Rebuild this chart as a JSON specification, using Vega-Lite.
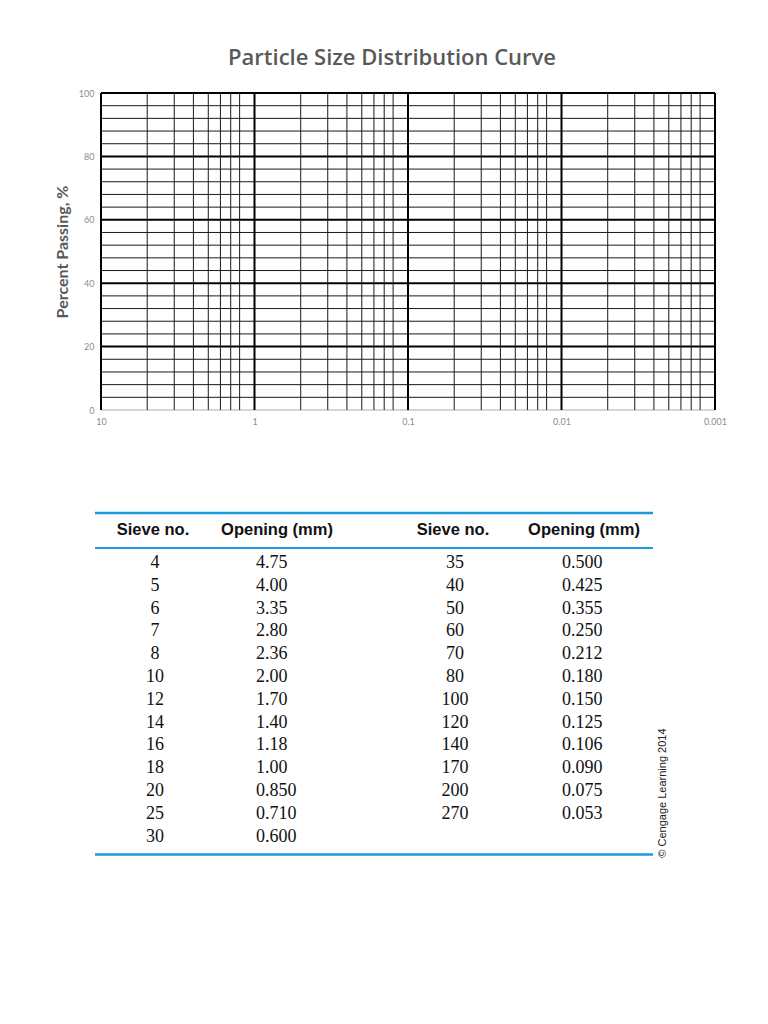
{
  "$schema": "https://vega.github.io/schema/vega-lite/v6.json",
  "background": "white",
  "padding": {"left": 54, "top": 47, "right": 0, "bottom": 0},
  "config": {"view": {"stroke": null}, "concat": {"spacing": 74}},
  "datasets": {
    "vmajor": [{"size": 10}, {"size": 1}, {"size": 0.1}, {"size": 0.01}, {"size": 0.001}],
    "vminor": [
      {"size": 5}, {"size": 3.333}, {"size": 2.5}, {"size": 2}, {"size": 1.667}, {"size": 1.429}, {"size": 1.25},
      {"size": 0.5}, {"size": 0.3333}, {"size": 0.25}, {"size": 0.2}, {"size": 0.1667}, {"size": 0.1429}, {"size": 0.125},
      {"size": 0.05}, {"size": 0.03333}, {"size": 0.025}, {"size": 0.02}, {"size": 0.01667}, {"size": 0.01429}, {"size": 0.0125},
      {"size": 0.005}, {"size": 0.003333}, {"size": 0.0025}, {"size": 0.002}, {"size": 0.001667}, {"size": 0.001429}, {"size": 0.00125}
    ],
    "hmajor": [{"pct": 20}, {"pct": 40}, {"pct": 60}, {"pct": 80}, {"pct": 100}],
    "hminor": [
      {"pct": 4}, {"pct": 8}, {"pct": 12}, {"pct": 16}, {"pct": 24}, {"pct": 28}, {"pct": 32}, {"pct": 36},
      {"pct": 44}, {"pct": 48}, {"pct": 52}, {"pct": 56}, {"pct": 64}, {"pct": 68}, {"pct": 72}, {"pct": 76},
      {"pct": 84}, {"pct": 88}, {"pct": 92}, {"pct": 96}
    ],
    "hzero": [{"pct": 0}],
    "sieves": [
      {"half": 1, "row": 1, "sieve": "4", "opening": "4.75"},
      {"half": 1, "row": 2, "sieve": "5", "opening": "4.00"},
      {"half": 1, "row": 3, "sieve": "6", "opening": "3.35"},
      {"half": 1, "row": 4, "sieve": "7", "opening": "2.80"},
      {"half": 1, "row": 5, "sieve": "8", "opening": "2.36"},
      {"half": 1, "row": 6, "sieve": "10", "opening": "2.00"},
      {"half": 1, "row": 7, "sieve": "12", "opening": "1.70"},
      {"half": 1, "row": 8, "sieve": "14", "opening": "1.40"},
      {"half": 1, "row": 9, "sieve": "16", "opening": "1.18"},
      {"half": 1, "row": 10, "sieve": "18", "opening": "1.00"},
      {"half": 1, "row": 11, "sieve": "20", "opening": "0.850"},
      {"half": 1, "row": 12, "sieve": "25", "opening": "0.710"},
      {"half": 1, "row": 13, "sieve": "30", "opening": "0.600"},
      {"half": 2, "row": 1, "sieve": "35", "opening": "0.500"},
      {"half": 2, "row": 2, "sieve": "40", "opening": "0.425"},
      {"half": 2, "row": 3, "sieve": "50", "opening": "0.355"},
      {"half": 2, "row": 4, "sieve": "60", "opening": "0.250"},
      {"half": 2, "row": 5, "sieve": "70", "opening": "0.212"},
      {"half": 2, "row": 6, "sieve": "80", "opening": "0.180"},
      {"half": 2, "row": 7, "sieve": "100", "opening": "0.150"},
      {"half": 2, "row": 8, "sieve": "120", "opening": "0.125"},
      {"half": 2, "row": 9, "sieve": "140", "opening": "0.106"},
      {"half": 2, "row": 10, "sieve": "170", "opening": "0.090"},
      {"half": 2, "row": 11, "sieve": "200", "opening": "0.075"},
      {"half": 2, "row": 12, "sieve": "270", "opening": "0.053"}
    ],
    "headers": [
      {"half": 1, "row": 0, "sieveHead": "Sieve no.", "openHead": "Opening (mm)"},
      {"half": 2, "row": 0, "sieveHead": "Sieve no.", "openHead": "Opening (mm)"}
    ],
    "borders": [{"row": -1.19}, {"row": 13.79}],
    "innerBorder": [{"row": 0.343}],
    "credit": [{"half": 2, "row": 11.09, "note": "© Cengage Learning 2014"}]
  },
  "vconcat": [
    {
      "width": 614,
      "height": 317,
      "title": {
        "text": "Particle Size Distribution Curve",
        "font": "Open Sans",
        "fontSize": 22,
        "fontWeight": 600,
        "color": "#595959",
        "anchor": "middle",
        "dx": -16,
        "offset": 19
      },
      "layer": [
        {
          "data": {"name": "hminor"},
          "mark": {"type": "rule", "color": "#1a1a1a", "strokeWidth": 1},
          "encoding": {
            "y": {
              "field": "pct",
              "type": "quantitative",
              "scale": {"domain": [0, 100], "nice": false},
              "axis": {
                "values": [0, 20, 40, 60, 80, 100],
                "title": "Percent Passing, %",
                "titleFont": "Lato",
                "titleFontSize": 16,
                "titleFontWeight": "bold",
                "titleColor": "#595959",
                "titlePadding": 8,
                "labelFont": "Lato",
                "labelFontSize": 9,
                "labelColor": "#8c8c8c",
                "labelPadding": 7,
                "ticks": false,
                "domain": false,
                "grid": false
              }
            }
          }
        },
        {
          "data": {"name": "hmajor"},
          "mark": {"type": "rule", "color": "#000000", "strokeWidth": 2},
          "encoding": {"y": {"field": "pct", "type": "quantitative"}}
        },
        {
          "data": {"name": "hzero"},
          "mark": {"type": "rule", "color": "#c8c8c8", "strokeWidth": 1.5},
          "encoding": {"y": {"field": "pct", "type": "quantitative"}}
        },
        {
          "data": {"name": "vminor"},
          "mark": {"type": "rule", "color": "#1a1a1a", "strokeWidth": 1},
          "encoding": {
            "x": {
              "field": "size",
              "type": "quantitative",
              "scale": {"type": "log", "domain": [0.001, 10], "reverse": true, "nice": false},
              "axis": {
                "values": [10, 1, 0.1, 0.01, 0.001],
                "format": "~g",
                "title": null,
                "labelFont": "Lato",
                "labelFontSize": 9,
                "labelColor": "#8c8c8c",
                "labelPadding": 7,
                "labelFlush": false,
                "labelOverlap": false,
                "ticks": false,
                "domain": false,
                "grid": false
              }
            }
          }
        },
        {
          "data": {"name": "vmajor"},
          "mark": {"type": "rule", "color": "#000000", "strokeWidth": 2},
          "encoding": {"x": {"field": "size", "type": "quantitative"}}
        }
      ]
    },
    {
      "width": 614,
      "height": 370,
      "layer": [
        {
          "data": {"name": "borders"},
          "mark": {"type": "rule", "color": "#1b9ae0", "strokeWidth": 2.5},
          "encoding": {
            "y": {"field": "row", "type": "quantitative", "scale": {"domain": [-1.763, 14.465], "reverse": true, "nice": false, "zero": false}, "axis": null},
            "x": {"datum": 0.8, "type": "quantitative", "scale": {"domain": [0.82, 2.8667], "nice": false, "zero": false}, "axis": null},
            "x2": {"datum": 2.66}
          }
        },
        {
          "data": {"name": "innerBorder"},
          "mark": {"type": "rule", "color": "#1b9ae0", "strokeWidth": 2},
          "encoding": {
            "y": {"field": "row", "type": "quantitative", "axis": null},
            "x": {"datum": 0.8, "type": "quantitative", "axis": null},
            "x2": {"datum": 2.66}
          }
        },
        {
          "data": {"name": "headers"},
          "mark": {"type": "text", "font": "Liberation Sans", "fontWeight": "bold", "fontSize": 16.5, "color": "#111111", "align": "center", "baseline": "middle", "dy": -10, "dx": -2},
          "encoding": {
            "x": {"field": "half", "type": "quantitative", "axis": null},
            "y": {"field": "row", "type": "quantitative", "axis": null},
            "text": {"field": "sieveHead"}
          }
        },
        {
          "data": {"name": "headers"},
          "transform": [{"filter": "datum.half == 1"}],
          "mark": {"type": "text", "font": "Liberation Sans", "fontWeight": "bold", "fontSize": 16.5, "color": "#111111", "align": "center", "baseline": "middle", "dy": -10, "dx": 122},
          "encoding": {
            "x": {"field": "half", "type": "quantitative", "axis": null},
            "y": {"field": "row", "type": "quantitative", "axis": null},
            "text": {"field": "openHead"}
          }
        },
        {
          "data": {"name": "headers"},
          "transform": [{"filter": "datum.half == 2"}],
          "mark": {"type": "text", "font": "Liberation Sans", "fontWeight": "bold", "fontSize": 16.5, "color": "#111111", "align": "center", "baseline": "middle", "dy": -10, "dx": 129},
          "encoding": {
            "x": {"field": "half", "type": "quantitative", "axis": null},
            "y": {"field": "row", "type": "quantitative", "axis": null},
            "text": {"field": "openHead"}
          }
        },
        {
          "data": {"name": "sieves"},
          "mark": {"type": "text", "font": "Liberation Serif", "fontSize": 18, "color": "#111111", "align": "center", "baseline": "middle"},
          "encoding": {
            "x": {"field": "half", "type": "quantitative", "axis": null},
            "y": {"field": "row", "type": "quantitative", "axis": null},
            "text": {"field": "sieve"}
          }
        },
        {
          "data": {"name": "sieves"},
          "transform": [{"filter": "datum.half == 1"}],
          "mark": {"type": "text", "font": "Liberation Serif", "fontSize": 18, "color": "#111111", "align": "left", "baseline": "middle", "dx": 101},
          "encoding": {
            "x": {"field": "half", "type": "quantitative", "axis": null},
            "y": {"field": "row", "type": "quantitative", "axis": null},
            "text": {"field": "opening"}
          }
        },
        {
          "data": {"name": "sieves"},
          "transform": [{"filter": "datum.half == 2"}],
          "mark": {"type": "text", "font": "Liberation Serif", "fontSize": 18, "color": "#111111", "align": "left", "baseline": "middle", "dx": 107},
          "encoding": {
            "x": {"field": "half", "type": "quantitative", "axis": null},
            "y": {"field": "row", "type": "quantitative", "axis": null},
            "text": {"field": "opening"}
          }
        },
        {
          "data": {"name": "credit"},
          "mark": {"type": "text", "font": "Liberation Sans", "fontSize": 11, "color": "#222222", "align": "center", "baseline": "middle", "angle": 270},
          "encoding": {
            "x": {"field": "half", "type": "quantitative", "axis": null},
            "y": {"field": "row", "type": "quantitative", "axis": null},
            "xOffset": {"value": 208},
            "text": {"field": "note"}
          }
        }
      ]
    }
  ]
}
